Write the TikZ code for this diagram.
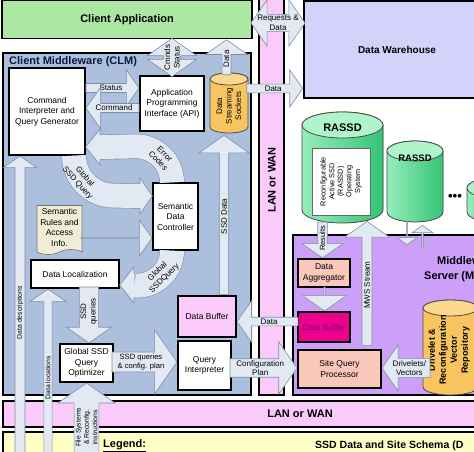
\documentclass[tikz,border=0pt]{standalone}
\usepackage{fontspec}
\setmainfont{Liberation Sans}
\usetikzlibrary{shapes.arrows,shapes.symbols}

\definecolor{appgreen}{RGB}{172,232,164}
\definecolor{clmblue}{RGB}{172,192,222}
\definecolor{lanpink}{RGB}{250,202,250}
\definecolor{dwlav}{RGB}{210,210,250}
\definecolor{mwspurple}{RGB}{204,160,248}
\definecolor{legyellow}{RGB}{255,255,200}
\definecolor{arrowfill}{RGB}{226,233,243}
\definecolor{arrowline}{RGB}{128,142,162}
\definecolor{sockorange}{RGB}{248,196,96}
\definecolor{socktop}{RGB}{252,216,140}
\definecolor{rassdlight}{RGB}{150,238,186}
\definecolor{rassddark}{RGB}{52,196,118}
\definecolor{rassdtop}{RGB}{176,244,204}
\definecolor{salmon}{RGB}{250,200,186}
\definecolor{docbeige}{RGB}{240,236,214}
\definecolor{clmnavy}{RGB}{12,22,60}
\definecolor{bufpurple}{RGB}{120,10,120}

\newcommand{\boxfont}{\fontsize{8.5}{10.5}\selectfont}
\newcommand{\arrfont}{\fontsize{8}{9.5}\selectfont}
\newcommand{\tinyfont}{\fontsize{6.8}{8.4}\selectfont}
\newcommand{\osfont}{\fontsize{7.3}{8.6}\selectfont}
\newcommand{\titlefont}{\fontsize{11}{13}\selectfont\bfseries}

\begin{document}
\begin{tikzpicture}[x=1pt,y=-1pt,
        band/.style={draw=black,line width=1.8pt,inner sep=0pt},
        box/.style={draw=black,line width=1.3pt,fill=white,align=center,font=\boxfont,inner sep=1pt},
        blockarrow/.style={single arrow,draw=arrowline,fill=arrowfill,line width=0.6pt,inner sep=0pt,align=center,font=\arrfont,single arrow tip angle=110},
        twoarrow/.style={double arrow,draw=arrowline,fill=arrowfill,line width=0.6pt,inner sep=0pt,align=center,font=\arrfont,double arrow tip angle=110},
        curveband/.style={draw=arrowline,line width=0.6pt,double=arrowfill,double distance=24pt},
        curvehead/.style={fill=arrowfill,draw=arrowline,line width=0.6pt},
        drumline/.style={draw=black!70,line width=0.8pt},
        greendrum/.style={drumline,left color=rassdlight,right color=rassddark}]
    \useasboundingbox (0,0) rectangle (474,452);
    \clip (0,0) rectangle (474,452);
    %% Frames and network bands
    \node[band,fill=appgreen,minimum width=250,minimum height=38,font=\titlefont] (app) at (127,19.5) {Client Application};
    \node[band,fill=dwlav,minimum width=186,minimum height=97,font=\fontsize{10}{12}\selectfont\bfseries] (dw) at (397,49.5) {Data Warehouse};
    \node[band,fill=lanpink,minimum width=25,minimum height=400] (lanv) at (271.5,195) {};
    \node[band,fill=clmblue,minimum width=248,minimum height=342] (clm) at (127,224) {};
    \node[band,fill=mwspurple,minimum width=197,minimum height=160] (mws) at (391.5,315) {};
    \node[band,fill=lanpink,minimum width=487,minimum height=26] (lanh) at (246.5,414) {};
    \node[band,fill=legyellow,minimum width=487,minimum height=38] (leg) at (246.5,451) {};
    %% Frame titles
    \node[font=\titlefont,text=clmnavy,anchor=west,inner sep=0pt] (clmtitle) at (9,62) {Client Middleware (CLM)};
    \node[font=\titlefont,rotate=90,inner sep=0pt] (lanvtitle) at (272,180) {LAN or WAN};
    \node[font=\titlefont,inner sep=0pt] (lanhtitle) at (300,414) {LAN or WAN};
    \node[font=\titlefont,anchor=west,inner sep=0pt] (legtitle) at (103,446) {\underline{Legend:}};
    \node[font=\fontsize{10.5}{12}\selectfont\bfseries,anchor=west,inner sep=0pt] (dsstitle) at (315,446) {SSD Data and Site Schema (D};
    \node[font=\titlefont,anchor=west,inner sep=0pt] (mwstitlea) at (437,261) {Middlew};
    \node[font=\titlefont,anchor=west,inner sep=0pt] (mwstitleb) at (424,277) {Server (M};

    %% Client middleware blocks
    \node[box,minimum width=76,minimum height=87] (cmdint) at (47,111.5) {Command\\Interpreter and\\Query Generator};
    \node[box,minimum width=64,minimum height=55] (api) at (172,103.5) {Application\\Programming\\Interface (API)};
    \node[box,minimum width=45,minimum height=67] (sdc) at (175.5,216.5) {Semantic\\Data\\Controller};
    \node[tape,tape bend top=none,draw=black!55,line width=0.6pt,fill=docbeige,align=center,font=\boxfont,inner sep=1pt,minimum width=45,minimum height=49] (rules) at (59.5,227.5) {Semantic\\Rules and\\Access\\Info.};
    \node[box,minimum width=88,minimum height=28] (dloc) at (75,274) {Data Localization};
    \node[box,minimum width=53,minimum height=38] (gsqo) at (86.5,363) {Global SSD\\Query\\Optimizer};
    \node[box,fill=lanpink,minimum width=58,minimum height=41] (cbuf) at (207,316.5) {Data Buffer};
    \node[box,minimum width=53,minimum height=49] (qint) at (204.5,365.5) {Query\\Interpreter};
    %% Data streaming sockets drum
    \filldraw[drumline,fill=sockorange] (210,79) -- (210,127) arc[start angle=180,end angle=0,x radius=19,y radius=6] -- (248,79) arc[start angle=0,end angle=-180,x radius=19,y radius=6] -- cycle;
    \filldraw[drumline,fill=socktop] (229,79) ellipse[x radius=19,y radius=6];
    \node[rotate=90,align=center,font=\arrfont,inner sep=0pt] (dss) at (229,106) {Data\\Streaming\\Sockets};

    %% RASSD drums
    \filldraw[greendrum] (302,125) -- (302,210) arc[start angle=180,end angle=0,x radius=40.5,y radius=13] -- (383,125) arc[start angle=0,end angle=-180,x radius=40.5,y radius=13] -- cycle;
    \filldraw[drumline,fill=rassdtop] (342.5,125) ellipse[x radius=40.5,y radius=13];
    \node[font=\titlefont,inner sep=0pt] (rassdatitle) at (342.5,128) {RASSD};
    \node[draw=black!60,line width=0.5pt,fill=white,rotate=90,minimum width=67,minimum height=58,inner sep=0pt,align=center,font=\osfont] (rassdos) at (341,181.5) {Reconfigurable\\Active SSD\\(RASSD)\\Operating\\System};
    \filldraw[greendrum] (387,151) -- (387,212) arc[start angle=180,end angle=0,x radius=28,y radius=10] -- (443,151) arc[start angle=0,end angle=-180,x radius=28,y radius=10] -- cycle;
    \filldraw[drumline,fill=rassdtop] (415,151) ellipse[x radius=28,y radius=10];
    \node[font=\fontsize{9.5}{11}\selectfont\bfseries,inner sep=0pt] (rassdbtitle) at (415,158) {RASSD};
    \filldraw[greendrum] (467,188) -- (467,212) arc[start angle=180,end angle=0,x radius=28,y radius=10] -- (523,188) arc[start angle=0,end angle=-180,x radius=28,y radius=10] -- cycle;
    \filldraw[drumline,fill=rassdtop] (495,188) ellipse[x radius=28,y radius=10];
    \node[font=\fontsize{13}{13}\selectfont\bfseries,inner sep=0pt] (moredots) at (455,197) {•••};

    %% Middleware server blocks
    \node[box,fill=salmon,minimum width=52,minimum height=28] (dagg) at (324,273) {Data\\Aggregator};
    \node[box,fill=magenta,text=bufpurple,minimum width=52,minimum height=30] (mbuf) at (324,327) {Data Buffer};
    \node[box,fill=salmon,minimum width=83,minimum height=38] (sqp) at (339.5,369) {Site Query\\Processor};
    \filldraw[drumline,fill=sockorange] (423,308) -- (423,387) arc[start angle=180,end angle=0,x radius=27.5,y radius=8] -- (478,308) arc[start angle=0,end angle=-180,x radius=27.5,y radius=8] -- cycle;
    \filldraw[drumline,fill=socktop] (450.5,308) ellipse[x radius=27.5,y radius=8];
    \node[rotate=90,align=center,font=\fontsize{9}{11}\selectfont\bfseries,inner sep=0pt] (repo) at (449,350) {Drivelet \&\\Reconfiguration\\Vector\\Repository};

    %% Curved query and error bands
    \draw[curveband] (cmdint.south -| 74,0) arc[start angle=180,end angle=90,radius=40] -- (140,196);
    \filldraw[curvehead] (140,184) -- (140,178) -- (sdc.west |- 0,196) -- (140,214) -- (140,208);
    \draw[curveband] (sdc.north -| 172,0) arc[start angle=0,end angle=-90,radius=36] -- (100,147);
    \filldraw[curvehead] (100,135) -- (100,129) -- (cmdint.east |- 0,147) -- (100,165) -- (100,159);
    \draw[curveband] (sdc.south -| 172,0) arc[start angle=0,end angle=90,radius=35] -- (134,285);
    \filldraw[curvehead] (134,273) -- (134,267) -- (dloc.east |- 0,285) -- (134,303) -- (134,297);
    \node[font=\arrfont,rotate=-48,align=center,inner sep=0pt] (gqtext) at (81,180) {Global\\SSD Query};
    \node[font=\arrfont,rotate=-45,align=center,inner sep=0pt] (errtext) at (161.5,157.5) {Error\\Codes};
    \node[font=\arrfont,rotate=45,align=center,inner sep=0pt] (gqltext) at (161,275) {Global\\SSDQuery};

    %% Block arrows in the client
    \node[twoarrow,minimum height=53,minimum width=46,double arrow head extend=13] (reqarr) at (278,23) {Requests \&\\Data};
    \node[twoarrow,rotate=90,minimum height=37,minimum width=49,double arrow head extend=14.5] (cmdarr) at (172,57.5) {Cmnds\\Status};
    \node[blockarrow,rotate=90,anchor=tip,minimum height=35,minimum width=42,single arrow head extend=11.5] (sockup) at (226.5,0 |- app.south) {Data};
    \node[blockarrow,anchor=tip,minimum height=56,minimum width=37,single arrow head extend=10] (sockdw) at (dw.west |- 0,88.5) {Data};
    \node[blockarrow,anchor=tip,minimum height=53,minimum width=36,single arrow head extend=9.5] (statarr) at (api.west |- 0,88) {Status};
    \node[blockarrow,shape border rotate=180,anchor=tip,minimum height=53,minimum width=42,single arrow head extend=12] (cmdarrow) at (cmdint.east |- 0,108) {Command};
    \node[blockarrow,rotate=90,anchor=tip,minimum height=159,minimum width=50,single arrow head extend=13.5] (ssdarr) at (224,135) {SSD Data};
    \node[blockarrow,anchor=tip,minimum height=71,minimum width=36,single arrow head extend=8] (rulesarr) at (sdc.west |- 0,238) {};
    \node[blockarrow,rotate=90,shape border rotate=180,anchor=tip,minimum height=56,minimum width=45,single arrow head extend=11.5] (ssdqarr) at (89,0 |- gsqo.north) {SSD\\queries};
    \node[blockarrow,anchor=tip,minimum height=65,minimum width=64,single arrow head extend=18.5,font=\fontsize{7.6}{9.2}\selectfont] (planarr) at (qint.west |- 0,362) {SSD queries\\\& config. plan};
    \node[blockarrow,shape border rotate=180,anchor=tip,minimum height=61,minimum width=42,single arrow head extend=12] (bufarr) at (cbuf.east |- 0,321.5) {Data};
    \node[blockarrow,anchor=tip,minimum height=67,minimum width=52,single arrow head extend=14.5] (cfgarr) at (sqp.west |- 0,368) {Configuration\\Plan};
    %% Long arrows from the storage side
    \node[blockarrow,rotate=90,anchor=tip,minimum height=310,minimum width=33,single arrow head extend=8,font=\tinyfont] (descarr) at (20,0 |- cmdint.south) {Data descriptions};
    \node[blockarrow,rotate=90,anchor=tip,minimum height=175,minimum width=36,single arrow head extend=9.5,font=\tinyfont] (locarr) at (48,0 |- dloc.south) {Data locations};
    \node[blockarrow,rotate=90,anchor=tip,minimum height=80,minimum width=57,single arrow head extend=14.5,font=\tinyfont] (fsarr) at (86.5,0 |- gsqo.south) {File Systems\\\& Reconfig.\\instructions};

    %% Block arrows in the middleware server
    \node[blockarrow,rotate=90,shape border rotate=180,anchor=tip,minimum height=36,minimum width=41,single arrow head extend=10,font=\fontsize{7.5}{9}\selectfont] (resarr) at (322.5,0 |- dagg.north) {Results};
    \node[blockarrow,rotate=90,anchor=tip,minimum height=124,minimum width=45,single arrow head extend=11] (streamarr) at (367,221) {MWS Stream};
    \node[blockarrow,rotate=90,shape border rotate=180,anchor=tip,minimum height=24,minimum width=44,single arrow head extend=10] (aggarr) at (324.5,0 |- mbuf.north) {};
    \node[blockarrow,shape border rotate=180,anchor=tip,minimum height=48,minimum width=46,single arrow head extend=11] (drvarr) at (sqp.east |- 0,368) {Drivelets/\\Vectors};
    \node[blockarrow,rotate=90,shape border rotate=180,anchor=tip,minimum height=23,minimum width=20,single arrow head extend=5] (rassddn) at (407,245) {};
    \node[blockarrow,rotate=90,anchor=tip,minimum height=22,minimum width=21,single arrow head extend=4] (rassdup) at (422.5,225) {};
\end{tikzpicture}
\end{document}
